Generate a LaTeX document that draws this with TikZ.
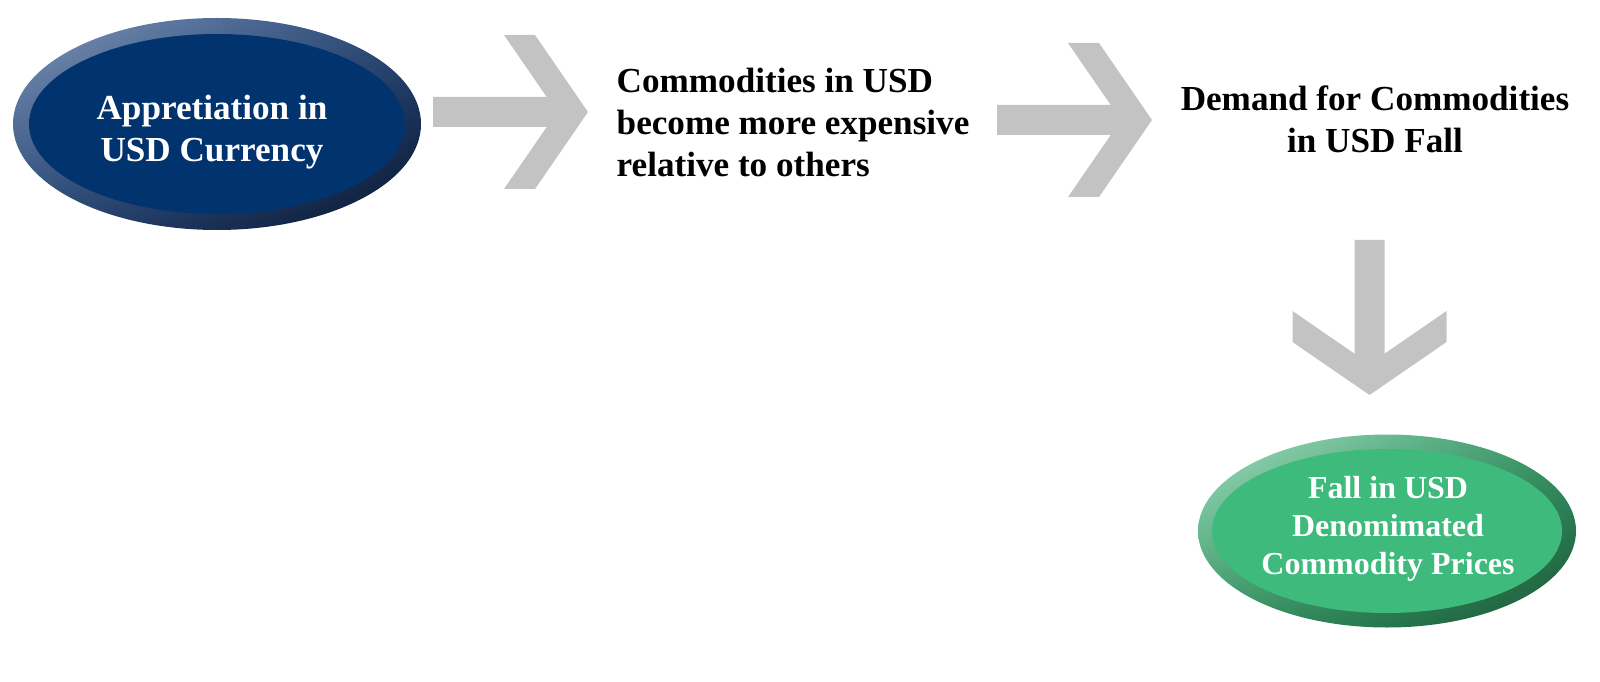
\documentclass[tikz,border=0pt]{standalone}
\usepackage{fontspec}
\setmainfont{Liberation Serif}
\usetikzlibrary{shapes.geometric,shadings}
\definecolor{navyface}{RGB}{1,51,110}
\definecolor{navylight}{RGB}{125,149,184}
\definecolor{navymid}{RGB}{40,72,120}
\definecolor{navydark}{RGB}{6,20,46}
\definecolor{greenface}{RGB}{61,186,124}
\definecolor{greenlight}{RGB}{160,222,190}
\definecolor{greenmid}{RGB}{52,150,100}
\definecolor{greendark}{RGB}{24,84,52}
\definecolor{arrowgray}{RGB}{195,195,195}
\begin{document}
\begin{tikzpicture}[
    flowarrow/.pic={
      \fill[arrowgray] (0,0.15) -- (1.137,0.15) -- (0.71,0.77) -- (1.02,0.77) -- (1.55,0)
        -- (1.02,-0.77) -- (0.71,-0.77) -- (1.137,-0.15) -- (0,-0.15) -- cycle;
    },
    whitetext/.style={text=white, align=center, inner sep=0pt, anchor=north},
    blacktext/.style={text=black, inner sep=0pt},
  ]
    \useasboundingbox (0,0) rectangle (16,6.81);

    \node (app) [ellipse, inner sep=0pt, minimum width=4.08cm, minimum height=2.12cm, upper left=navylight, upper right=navymid, lower left=navymid, lower right=navydark,
        path picture={\fill[navyface] (path picture bounding box.center) ellipse [x radius=1.88cm, y radius=0.90cm];}] at (2.17,5.57) {};
    \node (apptext) [whitetext, font=\bfseries\fontsize{10}{12.2}\selectfont] at (2.12,5.87) {Appretiation in\\USD Currency};

    \node (rel) [blacktext, align=left, anchor=north west, font=\bfseries\fontsize{10}{12}\selectfont] at (6.16,6.135) {Commodities in USD\\become more expensive\\relative to others};

    \node (dem) [blacktext, align=center, anchor=north, font=\bfseries\fontsize{10}{11.95}\selectfont] at (13.75,5.96) {Demand for Commodities\\in USD Fall};

    \node (fall) [ellipse, inner sep=0pt, minimum width=3.78cm, minimum height=1.93cm, upper left=greenlight, upper right=greenmid, lower left=greenmid, lower right=greendark,
        path picture={\fill[greenface] (path picture bounding box.center) ellipse [x radius=1.75cm, y radius=0.82cm];}] at (13.87,1.50) {};
    \node (falltext) [whitetext, font=\bfseries\fontsize{9.1}{10.7}\selectfont] at (13.88,2.05) {Fall in USD\\Denomimated\\Commodity Prices};

    % block arrows between the steps
    \coordinate (a1) at (4.33,5.69);
    \coordinate (a2) at (9.97,5.61);
    \coordinate (a3) at (13.695,4.41);
    \pic at (a1) {flowarrow};
    \pic at (a2) {flowarrow};
    \pic[rotate=-90] at (a3) {flowarrow};
\end{tikzpicture}
\end{document}
